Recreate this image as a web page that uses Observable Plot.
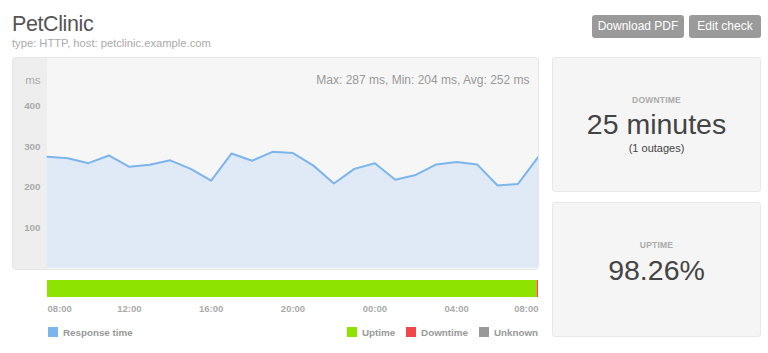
<!DOCTYPE html>
<html>
<head>
<meta charset="utf-8">
<script src="https://cdn.jsdelivr.net/npm/d3@7"></script>
<script src="https://cdn.jsdelivr.net/npm/@observablehq/plot@0.6"></script>
<style>
  html, body { margin: 0; padding: 0; background: #fff; }
  body { width: 768px; height: 353px; position: relative; overflow: hidden;
         font-family: "Liberation Sans", Arial, Helvetica, sans-serif; }
  .abs { position: absolute; }
  .title { left: 12px; top: 14px; font-size: 21.5px; line-height: 21.5px; color: #555; letter-spacing: -0.4px; white-space: nowrap; }
  .subtitle { left: 12px; top: 38px; font-size: 11.2px; line-height: 11.2px; color: #aaa; white-space: nowrap; }
  .btn { top: 15px; height: 23px; background: #9a9a9a; color: #fff; border-radius: 3px;
         font-size: 12px; line-height: 23px; text-align: center; }
  .panel { left: 12px; top: 57px; width: 525px; height: 211px; border: 1px solid #e6e6e6; border-radius: 4px;
           background: linear-gradient(to right, #eeeeee 34px, #f6f6f6 34px); overflow: hidden; }
  .timeline { left: 13px; top: 272px; }
  .card { left: 552px; width: 207px; height: 133px; background: #f5f5f5; border: 1px solid #e8e8e8; border-radius: 3px; }
  .card div { position: absolute; left: 0; width: 100%; text-align: center; white-space: nowrap; }
  .lbl { font-size: 8.5px; line-height: 8.5px; font-weight: bold; color: #aaa; letter-spacing: 0.2px; }
  .big { font-size: 28.5px; line-height: 28.5px; color: #444; }
  .small { font-size: 11px; line-height: 11px; color: #444; }
  .legend { top: 327px; height: 10px; display: flex; align-items: center; font-size: 9.8px; font-weight: bold; color: #999; white-space: nowrap; }
  .sw { width: 10px; height: 10px; display: inline-block; margin-right: 5px; }
  .item { display: flex; align-items: center; margin-left: 11px; }
</style>
</head>
<body>
<script>
// ---- data ----
const checkName = "PetClinic";
const checkInfo = "type: HTTP, host: petclinic.example.com";
const times = [
  "2024-05-01T08:00","2024-05-01T09:00","2024-05-01T10:00","2024-05-01T11:00","2024-05-01T12:00",
  "2024-05-01T13:00","2024-05-01T14:00","2024-05-01T15:00","2024-05-01T16:00","2024-05-01T17:00",
  "2024-05-01T18:00","2024-05-01T19:00","2024-05-01T20:00","2024-05-01T21:00","2024-05-01T22:00",
  "2024-05-01T23:00","2024-05-02T00:00","2024-05-02T01:00","2024-05-02T02:00","2024-05-02T03:00",
  "2024-05-02T04:00","2024-05-02T05:00","2024-05-02T06:00","2024-05-02T07:00","2024-05-02T08:00"
];
const responseMs = [275,271,259,278,250,255,266,245,216,283,265,287,284,253,209,245,259,218,230,256,262,256,204,208,275];
const yTicks = [100, 200, 300, 400];
const tickTimes = ["2024-05-01T08:00","2024-05-01T12:00","2024-05-01T16:00","2024-05-01T20:00","2024-05-02T00:00","2024-05-02T04:00","2024-05-02T08:00"];
const tickLabels = ["08:00","12:00","16:00","20:00","00:00","04:00","08:00"];
const statusNames = ["Uptime","Downtime"];
const statusStart = ["2024-05-01T08:00","2024-05-02T07:56"];
const statusEnd = ["2024-05-02T07:56","2024-05-02T08:00"];
const legendNames = ["Uptime","Downtime","Unknown"];
const legendColors = ["#8fe300","#f04848","#999999"];
const downtimeText = "25 minutes";
const outagesText = "(1 outages)";
const uptimeText = "98.26%";

// ---- build ----
const data = times.map((t, i) => ({t: new Date(t), ms: responseMs[i]}));
const ticks = tickTimes.map((t, i) => ({t: new Date(t), label: tickLabels[i],
  anchor: i === 0 ? "start" : i === tickTimes.length - 1 ? "end" : "middle"}));
const segs = statusNames.map((s, i) => ({status: s, x1: new Date(statusStart[i]), x2: new Date(statusEnd[i])}));
const xDomain = [new Date(times[0]), new Date(times[times.length - 1])];
const statText = `Max: ${d3.max(responseMs)} ms, Min: ${d3.min(responseMs)} ms, Avg: ${Math.round(d3.mean(responseMs))} ms`;
const font = '"Liberation Sans", Arial, Helvetica, sans-serif';

function el(cls, html, style) {
  const d = document.createElement("div");
  d.className = cls; if (html != null) d.innerHTML = html;
  if (style) Object.assign(d.style, style);
  document.body.appendChild(d); return d;
}

el("abs title", checkName);
el("abs subtitle", checkInfo);
el("abs btn", "Download PDF", {left: "592px", width: "92px"});
el("abs btn", "Edit check", {left: "689px", width: "72px"});

const panel = el("abs panel");
const chart = Plot.plot({
  width: 525, height: 211,
  marginLeft: 34, marginRight: 0, marginTop: 0, marginBottom: 0,
  style: {background: "transparent", fontFamily: font, overflow: "hidden"},
  x: {type: "time", domain: xDomain, axis: null},
  y: {domain: [-3, 517], axis: null},
  marks: [
    Plot.areaY(data, {x: "t", y: "ms", fill: "#dfeaf6"}),
    Plot.lineY(data, {x: "t", y: "ms", stroke: "#7cb5ec", strokeWidth: 2}),
    Plot.axisY({ticks: yTicks, tickSize: 0, tickPadding: 7, label: null, tickFormat: d => d,
      fontSize: 9.8, fontWeight: "bold", fill: "#aaa"}),
    Plot.text(["ms"], {frameAnchor: "top-left", dx: -7, dy: 17, textAnchor: "end", fontSize: 11.5, fill: "#aaa"}),
    Plot.text([statText], {frameAnchor: "top-right", dx: -9, dy: 17, textAnchor: "end", fontSize: 12, fill: "#999"})
  ]
});
panel.appendChild(chart);

const tl = el("abs timeline");
const timeline = Plot.plot({
  width: 525, height: 46,
  marginLeft: 34, marginRight: 0, marginTop: 8, marginBottom: 21,
  style: {background: "transparent", fontFamily: font, overflow: "visible"},
  x: {type: "time", domain: xDomain, axis: null},
  color: {domain: legendNames, range: legendColors},
  marks: [
    Plot.rect(segs, {x1: "x1", x2: "x2", fill: "status"}),
    Plot.text(ticks, {x: "t", text: "label", frameAnchor: "bottom", dy: 14,
      fontSize: 9.5, fontWeight: "bold", fill: "#aaa", letterSpacing: 0.4})
  ]
});
// per-label anchors: first label starts at the bar, last one ends at it
timeline.querySelectorAll("g[aria-label='text'] text")
  .forEach((n, i) => n.setAttribute("text-anchor", ticks[i].anchor));
tl.appendChild(timeline);

// legend
const legL = el("abs legend", null, {left: "48px"});
legL.innerHTML = `<span class="sw" style="background:#7cb5ec"></span>Response time`;
const legR = el("abs legend", null, {right: "230px"});
legR.innerHTML = legendNames.map((n, i) =>
  `<span class="item"><span class="sw" style="background:${legendColors[i]}"></span>${n}</span>`).join("");

// cards
const c1 = el("abs card", null, {top: "57px"});
c1.innerHTML = `<div class="lbl" style="top:38px">DOWNTIME</div>
  <div class="big" style="top:52px">${downtimeText}</div>
  <div class="small" style="top:85px">${outagesText}</div>`;
const c2 = el("abs card", null, {top: "202px"});
c2.innerHTML = `<div class="lbl" style="top:38px">UPTIME</div>
  <div class="big" style="top:53px">${uptimeText}</div>`;
</script>
</body>
</html>
